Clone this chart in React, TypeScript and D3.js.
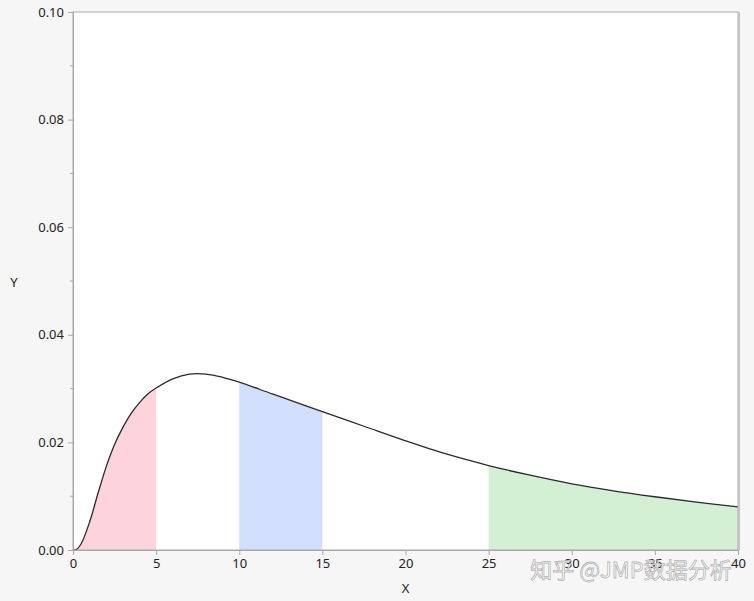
import { useEffect, useRef } from 'react';
import * as d3 from 'd3';

const W = 754;
const H = 601;
const [mt, mr, mb, ml] = [12, 16, 51, 73];

// density curve
const xs = [0, 0.25, 0.5, 1, 1.5, 2, 2.5, 3, 3.5, 4, 4.5, 5, 6, 7, 8, 9, 10, 12, 15, 17.5, 20, 22.5, 25, 27.5, 30, 32.5, 35, 37.5, 40];
const ys = [0, 0.0002, 0.0012, 0.0052, 0.0105, 0.0155, 0.0196, 0.0228, 0.0254, 0.0274, 0.029, 0.0301, 0.0318, 0.0327, 0.0327, 0.0321, 0.0312, 0.029, 0.0257, 0.023, 0.0203, 0.0178, 0.0157, 0.0139, 0.0123, 0.011, 0.0099, 0.0089, 0.008];

const xTicks = [0, 5, 10, 15, 20, 25, 30, 35, 40];
const yTicks = [0, 0.02, 0.04, 0.06, 0.08, 0.1];
const yMinor = [0.01, 0.03, 0.05, 0.07, 0.09];

const bands = [
    { from: 0, to: 5, color: '#fdd4dc' },
    { from: 10, to: 15, color: '#d1defc' },
    { from: 25, to: 40, color: '#d3f0d5' }
];

type Pt = { x: number; y: number };
const pts: Pt[] = xs.map((x, i) => ({ x, y: ys[i] }));

export default function App() {
    const ref = useRef<SVGSVGElement>(null);

    useEffect(() => {
        const svg = d3.select(ref.current);
        svg.selectAll('*').remove();
        const gw = W - ml - mr;
        const gh = H - mt - mb;
        const font = "'Noto Sans', 'Open Sans', sans-serif";

        svg.append('rect').attr('width', W).attr('height', H).attr('fill', '#f6f6f6');

        const g = svg.append('g').attr('transform', `translate(${ml}, ${mt})`);
        g.append('rect').attr('width', gw).attr('height', gh).attr('fill', '#ffffff');

        const x = d3.scaleLinear().domain([0, 40]).range([0, gw]);
        const y = d3.scaleLinear().domain([0, 0.1]).range([gh, 0]);

        const curve = d3.curveCatmullRom.alpha(0.5);

        // shaded areas
        const area = d3
            .area<Pt>()
            .curve(curve)
            .x((d) => x(d.x))
            .y0(y(0))
            .y1((d) => y(d.y));
        bands.forEach((b) => {
            g.append('path')
                .datum(pts.filter((p) => p.x >= b.from && p.x <= b.to))
                .attr('fill', b.color)
                .attr('d', area);
        });

        const line = d3
            .line<Pt>()
            .curve(curve)
            .x((d) => x(d.x))
            .y((d) => y(d.y));
        g.append('path').datum(pts).attr('fill', 'none').attr('stroke', '#2a2a2a').attr('stroke-width', 1.3).attr('d', line);

        // frame
        g.append('rect').attr('width', gw).attr('height', gh).attr('fill', 'none').attr('stroke', '#a8a8a8').attr('stroke-width', 1);
        g.append('line').attr('x1', gw + 1).attr('x2', gw + 1).attr('y1', 0).attr('y2', gh).attr('stroke', '#c4c4c4').attr('stroke-width', 2);

        // x axis
        const xa = g.append('g').attr('transform', `translate(0, ${gh})`);
        xa.call(d3.axisBottom(x).tickValues(xTicks).tickSize(5).tickPadding(4).tickFormat(d3.format('d')))
            .call((s) => s.select('.domain').attr('stroke', '#a8a8a8'))
            .call((s) => s.selectAll('.tick line').attr('stroke', '#a8a8a8'))
            .call((s) => s.selectAll('.tick text').attr('fill', '#222').attr('font-size', 13).attr('font-family', font));

        // y axis
        const ya = g.append('g');
        ya.call(d3.axisLeft(y).tickValues(yTicks).tickSize(5).tickPadding(4).tickFormat(d3.format('.2f')))
            .call((s) => s.select('.domain').attr('stroke', '#a8a8a8'))
            .call((s) => s.selectAll('.tick line').attr('stroke', '#a8a8a8'))
            .call((s) => s.selectAll('.tick text').attr('fill', '#222').attr('font-size', 13).attr('font-family', font));
        ya.selectAll('.minor')
            .data(yMinor)
            .join('line')
            .attr('x1', -3)
            .attr('x2', 0)
            .attr('y1', (d) => y(d))
            .attr('y2', (d) => y(d))
            .attr('stroke', '#a8a8a8');

        svg.append('text').attr('x', ml + gw / 2).attr('y', 593).attr('text-anchor', 'middle').attr('font-size', 13).attr('font-family', font).attr('fill', '#222').text('X');
        svg.append('text').attr('x', 14).attr('y', 287).attr('text-anchor', 'middle').attr('font-size', 13).attr('font-family', font).attr('fill', '#222').text('Y');

        // watermark
        svg.append('text')
            .attr('x', 631)
            .attr('y', 578)
            .attr('text-anchor', 'middle')
            .attr('font-size', 22)
            .attr('font-family', "'Noto Sans CJK SC', sans-serif")
            .attr('fill', 'rgba(255,255,255,0.85)')
            .attr('stroke', 'rgba(120,120,120,0.55)')
            .attr('stroke-width', 0.8)
            .text('知乎 @JMP数据分析');
    }, []);

    return (
        <div style={{ position: 'absolute', left: 0, top: 0 }}>
            <svg ref={ref} width={W} height={H} />
        </div>
    );
}
